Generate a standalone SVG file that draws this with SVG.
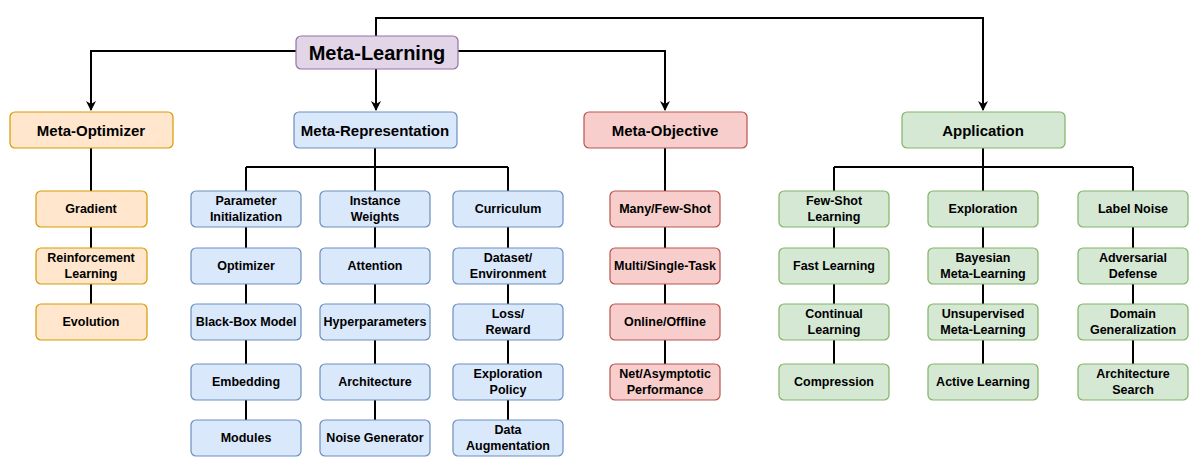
<svg xmlns="http://www.w3.org/2000/svg" width="1200" height="466" viewBox="0 0 1200 466">
<defs>
<style>
text{font-family:"Liberation Sans",Arial,sans-serif;font-weight:bold;fill:#000;text-anchor:middle;dominant-baseline:central}
.s{font-size:12.5px}.m{font-size:15px}.l{font-size:20px}
.o{fill:#ffe6cc;stroke:#d79b00}.b{fill:#dae8fc;stroke:#6c8ebf}.r{fill:#f8cecc;stroke:#b85450}.g{fill:#d5e8d4;stroke:#82b366}.p{fill:#e1d5e7;stroke:#9673a6}
rect{stroke-width:1.2}
.c{fill:none;stroke:#000;stroke-width:2}
</style>
<marker id="a" viewBox="0 0 10 10" refX="9" refY="5" markerWidth="5" markerHeight="5" orient="auto"><path d="M0,0L10,5L0,10L3,5z" fill="#000"/></marker>
</defs>
<g id="connectors">
<path class="c" d="M376,36V18H983V110" marker-end="url(#a)"/>
<path class="c" d="M296,51H91V110" marker-end="url(#a)"/>
<path class="c" d="M376,69V110" marker-end="url(#a)"/>
<path class="c" d="M458,51H665V110" marker-end="url(#a)"/>
<path class="c" d="M91,148V322"/>
<path class="c" d="M375,148V167M246,167H508M246,167V438M375,167V438M508,167V438"/>
<path class="c" d="M665,148V382"/>
<path class="c" d="M983,148V167M834,167H1133M834,167V382M983,167V382M1133,167V382"/>
</g>
<g id="root"><rect class="p" x="296" y="36" width="162" height="33" rx="5"/><text class="l" x="377" y="53">Meta-Learning</text></g>
<g id="mopt"><rect class="o" x="10" y="112" width="163" height="36" rx="5"/><text class="m" x="91" y="130">Meta-Optimizer</text></g>
<g id="mrep"><rect class="b" x="294" y="112" width="163" height="36" rx="5"/><text class="m" x="375" y="130">Meta-Representation</text></g>
<g id="mobj"><rect class="r" x="584" y="112" width="163" height="36" rx="5"/><text class="m" x="665" y="130">Meta-Objective</text></g>
<g id="app"><rect class="g" x="902" y="112" width="163" height="36" rx="5"/><text class="m" x="983" y="130">Application</text></g>

<g id="o1"><rect class="o" x="36" y="191" width="111" height="36" rx="5"/><text class="s" x="91" y="209">Gradient</text></g>
<g id="o2"><rect class="o" x="36" y="248" width="111" height="36" rx="5"/><text class="s" x="91" y="258">Reinforcement</text><text class="s" x="91" y="274">Learning</text></g>
<g id="o3"><rect class="o" x="36" y="304" width="111" height="36" rx="5"/><text class="s" x="91" y="322">Evolution</text></g>

<g id="b11"><rect class="b" x="191" y="191" width="110" height="36" rx="5"/><text class="s" x="246" y="201">Parameter</text><text class="s" x="246" y="217">Initialization</text></g>
<g id="b12"><rect class="b" x="191" y="248" width="110" height="36" rx="5"/><text class="s" x="246" y="266">Optimizer</text></g>
<g id="b13"><rect class="b" x="191" y="304" width="110" height="36" rx="5"/><text class="s" x="246" y="322">Black-Box Model</text></g>
<g id="b14"><rect class="b" x="191" y="364" width="110" height="36" rx="5"/><text class="s" x="246" y="382">Embedding</text></g>
<g id="b15"><rect class="b" x="191" y="420" width="110" height="36" rx="5"/><text class="s" x="246" y="438">Modules</text></g>

<g id="b21"><rect class="b" x="320" y="191" width="110" height="36" rx="5"/><text class="s" x="375" y="201">Instance</text><text class="s" x="375" y="217">Weights</text></g>
<g id="b22"><rect class="b" x="320" y="248" width="110" height="36" rx="5"/><text class="s" x="375" y="266">Attention</text></g>
<g id="b23"><rect class="b" x="320" y="304" width="110" height="36" rx="5"/><text class="s" x="375" y="322">Hyperparameters</text></g>
<g id="b24"><rect class="b" x="320" y="364" width="110" height="36" rx="5"/><text class="s" x="375" y="382">Architecture</text></g>
<g id="b25"><rect class="b" x="320" y="420" width="110" height="36" rx="5"/><text class="s" x="375" y="438">Noise Generator</text></g>

<g id="b31"><rect class="b" x="453" y="191" width="110" height="36" rx="5"/><text class="s" x="508" y="209">Curriculum</text></g>
<g id="b32"><rect class="b" x="453" y="248" width="110" height="36" rx="5"/><text class="s" x="508" y="258">Dataset/</text><text class="s" x="508" y="274">Environment</text></g>
<g id="b33"><rect class="b" x="453" y="304" width="110" height="36" rx="5"/><text class="s" x="508" y="314">Loss/</text><text class="s" x="508" y="330">Reward</text></g>
<g id="b34"><rect class="b" x="453" y="364" width="110" height="36" rx="5"/><text class="s" x="508" y="374">Exploration</text><text class="s" x="508" y="390">Policy</text></g>
<g id="b35"><rect class="b" x="453" y="420" width="110" height="36" rx="5"/><text class="s" x="508" y="430">Data</text><text class="s" x="508" y="446">Augmentation</text></g>

<g id="r1"><rect class="r" x="610" y="191" width="110" height="36" rx="5"/><text class="s" x="665" y="209">Many/Few-Shot</text></g>
<g id="r2"><rect class="r" x="610" y="248" width="110" height="36" rx="5"/><text class="s" x="665" y="266">Multi/Single-Task</text></g>
<g id="r3"><rect class="r" x="610" y="304" width="110" height="36" rx="5"/><text class="s" x="665" y="322">Online/Offline</text></g>
<g id="r4"><rect class="r" x="610" y="364" width="110" height="36" rx="5"/><text class="s" x="665" y="374">Net/Asymptotic</text><text class="s" x="665" y="390">Performance</text></g>

<g id="g11"><rect class="g" x="779" y="191" width="110" height="36" rx="5"/><text class="s" x="834" y="201">Few-Shot</text><text class="s" x="834" y="217">Learning</text></g>
<g id="g12"><rect class="g" x="779" y="248" width="110" height="36" rx="5"/><text class="s" x="834" y="266">Fast Learning</text></g>
<g id="g13"><rect class="g" x="779" y="304" width="110" height="36" rx="5"/><text class="s" x="834" y="314">Continual</text><text class="s" x="834" y="330">Learning</text></g>
<g id="g14"><rect class="g" x="779" y="364" width="110" height="36" rx="5"/><text class="s" x="834" y="382">Compression</text></g>

<g id="g21"><rect class="g" x="928" y="191" width="110" height="36" rx="5"/><text class="s" x="983" y="209">Exploration</text></g>
<g id="g22"><rect class="g" x="928" y="248" width="110" height="36" rx="5"/><text class="s" x="983" y="258">Bayesian</text><text class="s" x="983" y="274">Meta-Learning</text></g>
<g id="g23"><rect class="g" x="928" y="304" width="110" height="36" rx="5"/><text class="s" x="983" y="314">Unsupervised</text><text class="s" x="983" y="330">Meta-Learning</text></g>
<g id="g24"><rect class="g" x="928" y="364" width="110" height="36" rx="5"/><text class="s" x="983" y="382">Active Learning</text></g>

<g id="g31"><rect class="g" x="1078" y="191" width="110" height="36" rx="5"/><text class="s" x="1133" y="209">Label Noise</text></g>
<g id="g32"><rect class="g" x="1078" y="248" width="110" height="36" rx="5"/><text class="s" x="1133" y="258">Adversarial</text><text class="s" x="1133" y="274">Defense</text></g>
<g id="g33"><rect class="g" x="1078" y="304" width="110" height="36" rx="5"/><text class="s" x="1133" y="314">Domain</text><text class="s" x="1133" y="330">Generalization</text></g>
<g id="g34"><rect class="g" x="1078" y="364" width="110" height="36" rx="5"/><text class="s" x="1133" y="374">Architecture</text><text class="s" x="1133" y="390">Search</text></g>
</svg>
